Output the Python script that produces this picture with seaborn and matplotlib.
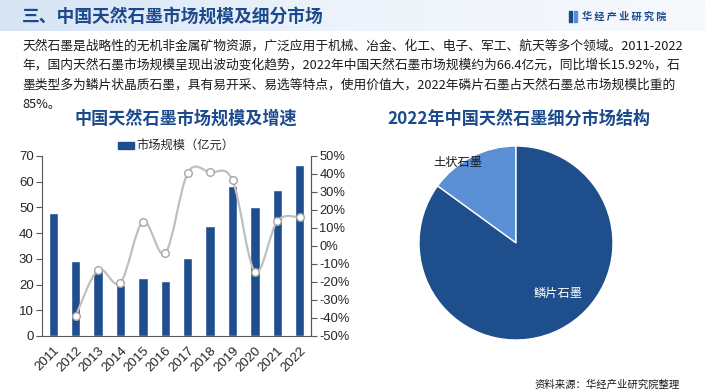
import numpy as np
import matplotlib
matplotlib.use("Agg")
import matplotlib.pyplot as plt
from matplotlib.path import Path
from matplotlib.patches import PathPatch, Rectangle, Patch
from matplotlib.ticker import FuncFormatter
import pandas as pd
import seaborn as sns

# data
years = ["2011", "2012", "2013", "2014", "2015", "2016",
         "2017", "2018", "2019", "2020", "2021", "2022"]
market_size = [48.0, 29.3, 25.4, 19.9, 22.6, 21.5, 30.4, 42.8, 58.4, 50.2, 56.9, 66.4]
growth_pct = [np.nan, -38.9, -13.3, -20.4, 13.5, -4.1, 40.6, 40.9, 36.5, -14.3, 13.9, 15.92]
segments = ["土状石墨", "鳞片石墨"]
segment_share = [15, 85]

W, H = 705, 392
BLUE = "#1f4e8f"
TITLE_BLUE = "#1b4a8c"

sns.set_theme(style="white")
plt.rcParams["font.family"] = ["Noto Sans CJK SC", "DejaVu Sans"]

fig = plt.figure(figsize=(W / 100, H / 100), dpi=100)


def px_axes(x0, y0, x1, y1):
    # pixel box (top-left origin) -> figure axes
    return fig.add_axes([x0 / W, 1 - y1 / H, (x1 - x0) / W, (y1 - y0) / H])


# header band
hdr = px_axes(0, 0, W, 31)
grad = np.linspace(0, 1, 256).reshape(1, -1)
cmap = matplotlib.colors.LinearSegmentedColormap.from_list("hdr", ["#d6e4f5", "#eef4fb", "#f7f9fd"])
hdr.imshow(grad, aspect="auto", cmap=cmap, extent=(0, 1, 0, 1))
hdr.set_axis_off()

fig.text(22 / W, 1 - 17 / H, "三、中国天然石墨市场规模及细分市场", fontsize=12.8,
         fontweight="bold", color=TITLE_BLUE, va="center", ha="left")
fig.patches.append(Rectangle((569 / W, 1 - 22 / H), 3 / W, 11 / H, transform=fig.transFigure,
                             color=TITLE_BLUE))
fig.patches.append(Rectangle((574 / W, 1 - 22 / H), 3 / W, 11 / H, transform=fig.transFigure,
                             color="#5a8fd5"))
fig.text(582 / W, 1 - 16.5 / H, "华 经 产 业 研 究 院", fontsize=7.3, fontweight="bold",
         color=TITLE_BLUE, va="center", ha="left")

# paragraph
para = [
    "天然石墨是战略性的无机非金属矿物资源，广泛应用于机械、冶金、化工、电子、军工、航天等多个领域。2011-2022",
    "年，国内天然石墨市场规模呈现出波动变化趋势，2022年中国天然石墨市场规模约为66.4亿元，同比增长15.92%，石",
    "墨类型多为鳞片状晶质石墨，具有易开采、易选等特点，使用价值大，2022年磷片石墨占天然石墨总市场规模比重的",
    "85%。",
]
for i, line in enumerate(para):
    fig.text(22 / W, 1 - (46 + 19.5 * i) / H, line, fontsize=9.2, color="#1a1a1a",
             va="center", ha="left")

# sub titles
fig.text(186 / W, 1 - 119 / H, "中国天然石墨市场规模及增速", fontsize=12.3,
         fontweight="bold", color=TITLE_BLUE, ha="center", va="center")
fig.text(519 / W, 1 - 119 / H, "2022年中国天然石墨细分市场结构", fontsize=12.3,
         fontweight="bold", color=TITLE_BLUE, ha="center", va="center")

# bar + line chart
ax = px_axes(42, 156, 311, 336)
df = pd.DataFrame({"year": years, "size": market_size, "growth": np.array(growth_pct) / 100})
sns.barplot(data=df, x="year", y="size", color=BLUE, width=0.42, saturation=1, ax=ax)
ax.set_xlim(-0.5, len(years) - 0.5)
ax.set_ylim(0, 70)
ax.set_yticks(range(0, 71, 10))
ax.set_xlabel("")
ax.set_ylabel("")
ax.set_xticks(np.arange(-0.5, len(years)), minor=True)
ax.tick_params(axis="x", which="major", length=0, pad=6)
ax.tick_params(axis="x", which="minor", length=4, width=0.8, color="#595959", direction="out")
ax.tick_params(axis="y", length=4, width=0.8, color="#595959", direction="out", pad=2)
for lab in ax.get_xticklabels():
    lab.set_rotation(45)
    lab.set_ha("right")
    lab.set_va("top")
    lab.set_rotation_mode("anchor")
for lab in ax.get_xticklabels() + ax.get_yticklabels():
    lab.set_family(["Liberation Sans", "DejaVu Sans"])
    lab.set_fontsize(9.5)
    lab.set_color("#262626")
for s in ["top"]:
    ax.spines[s].set_visible(False)
for s in ["left", "bottom", "right"]:
    ax.spines[s].set_color("#595959")
    ax.spines[s].set_linewidth(0.8)

ax2 = ax.twinx()
ax2.set_ylim(-0.5, 0.5)
ax2.set_yticks(np.linspace(-0.5, 0.5, 11))
ax2.yaxis.set_major_formatter(FuncFormatter(lambda v, p: f"{v * 100:.0f}%"))
ax2.tick_params(axis="y", length=4, width=0.8, color="#595959", direction="out", pad=2)
for lab in ax2.get_yticklabels():
    lab.set_family(["Liberation Sans", "DejaVu Sans"])
    lab.set_fontsize(9.3)
    lab.set_color("#262626")
for s in ["top", "left", "bottom"]:
    ax2.spines[s].set_visible(False)
ax2.spines["right"].set_color("#595959")
ax2.spines["right"].set_linewidth(0.8)

# smoothed growth line (Catmull-Rom as cubic bezier through the data points)
g = df.dropna()
pts = np.column_stack([g.index.to_numpy(dtype=float), g["growth"].to_numpy()])
verts = [pts[0]]
codes = [Path.MOVETO]
n = len(pts)
for i in range(n - 1):
    p0 = pts[max(i - 1, 0)]
    p1 = pts[i]
    p2 = pts[i + 1]
    p3 = pts[min(i + 2, n - 1)]
    verts += [p1 + (p2 - p0) / 6, p2 - (p3 - p1) / 6, p2]
    codes += [Path.CURVE4] * 3
ax2.add_patch(PathPatch(Path(verts, codes), fill=False, edgecolor="#bfbfbf", lw=1.6, zorder=3))
sns.scatterplot(x=pts[:, 0], y=pts[:, 1], ax=ax2, s=30, color="white", edgecolor="#a6a6a6",
                linewidth=1.0, zorder=4, legend=False)
ax2.set_xlim(-0.5, len(years) - 0.5)

ax.legend(handles=[Patch(facecolor=BLUE, edgecolor=BLUE, label="市场规模（亿元）")],
          loc="lower center", bbox_to_anchor=(0.5, 0.99), frameon=False, fontsize=8.8,
          handlelength=1.3, handleheight=0.6, handletextpad=0.2, borderaxespad=0)

# pie chart
cx, cy, r = 516, 243, 97
pax = px_axes(cx - r, cy - r, cx + r, cy + r)
pax.pie(segment_share, colors=["#5a8fd5", "#1f4e8c"], startangle=90, counterclock=True,
        wedgeprops=dict(edgecolor="white", linewidth=1.0))
pax.set_xlim(-1, 1)
pax.set_ylim(-1, 1)
pax.set_aspect("equal")
pax.set_axis_off()
pax.text(-0.6, 0.83, segments[0], fontsize=8.8, color="#1a1a1a", ha="center", va="center")
pax.text(0.43, -0.52, segments[1], fontsize=8.8, color="white", ha="center", va="center")

fig.text(680 / W, 1 - 385 / H, "资料来源：华经产业研究院整理", fontsize=7.5, color="#1a1a1a",
         ha="right", va="center")

fig.savefig("out.png", dpi=100)
